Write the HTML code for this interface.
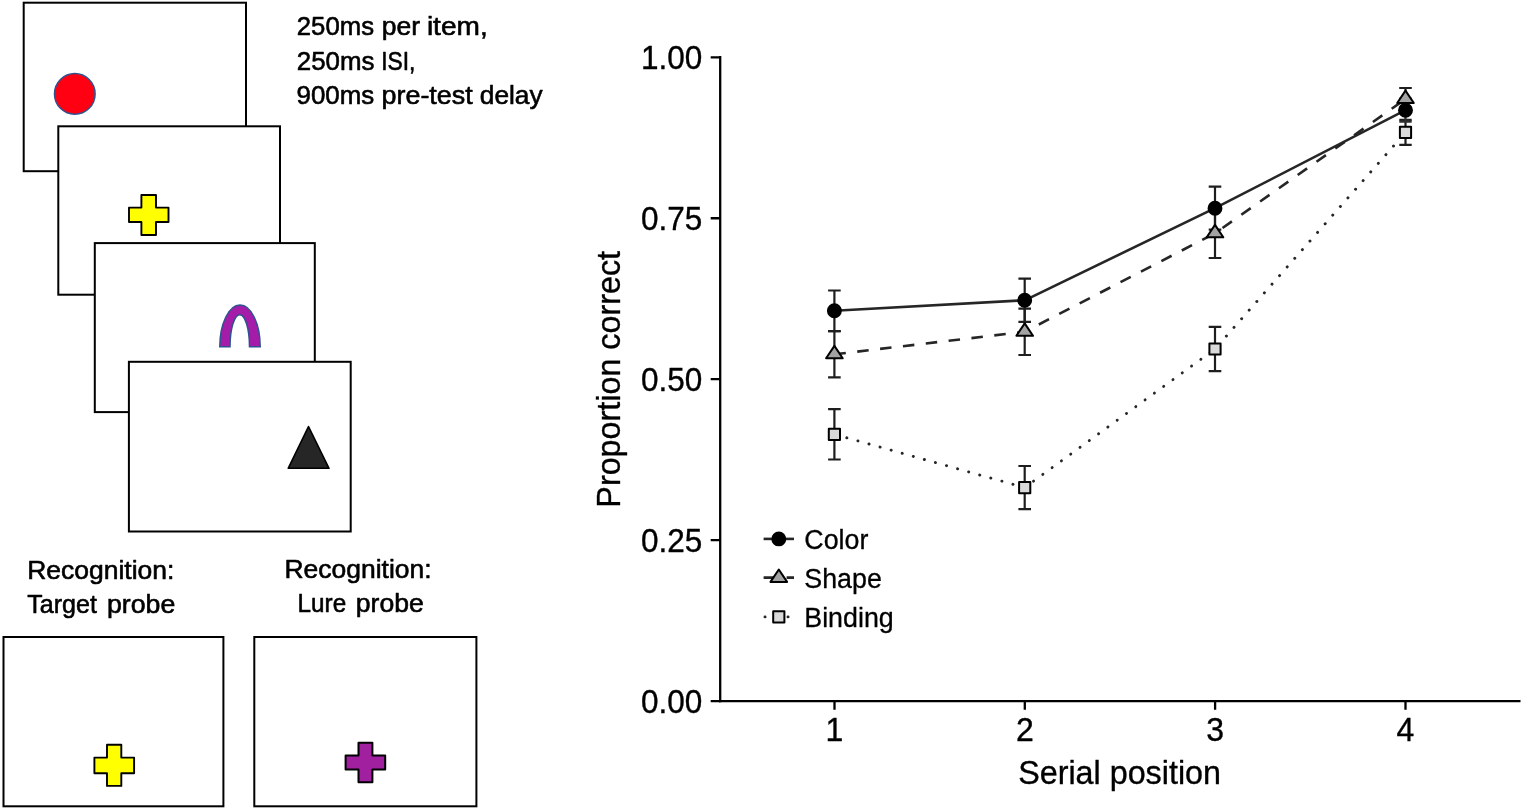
<!DOCTYPE html>
<html lang="en">
<head>
<meta charset="utf-8">
<title>Serial position recognition figure</title>
<style>
html,body{margin:0;padding:0;background:#fff;width:1524px;height:810px;overflow:hidden;}
svg{display:block;}
.cal{font-family:"Liberation Sans",sans-serif;font-size:26.3px;fill:#000;stroke:#000;stroke-width:0.6px;stroke-linejoin:round;}
.ax{font-family:"Liberation Sans",sans-serif;font-size:32px;fill:#000;stroke:#000;stroke-width:0.35px;stroke-linejoin:round;}
.tt{font-size:32.3px;}
.lg{font-family:"Liberation Sans",sans-serif;font-size:26.8px;fill:#000;stroke:#000;stroke-width:0.3px;stroke-linejoin:round;}
</style>
</head>
<body>
<svg width="1524" height="810" viewBox="0 0 1524 810">
<rect x="0" y="0" width="1524" height="810" fill="#fff"/>

<!-- ===== Stimulus sequence ===== -->
<g stroke="#000" stroke-width="2" fill="#fff">
  <rect x="23.7" y="2.7" width="222.3" height="168.5"/>
</g>
<circle cx="74.8" cy="93.9" r="20.3" fill="#ff0013" stroke="#2f528f" stroke-width="1.5"/>
<rect x="58.3" y="126.3" width="221.7" height="168.4" stroke="#000" stroke-width="2" fill="#fff"/>
<path d="M141.4,195 H156 V207.6 H168.5 V222 H156 V235 H141.4 V222 H129 V207.6 H141.4 Z" fill="#ffff00" stroke="#000" stroke-width="1.9" stroke-linejoin="round"/>
<rect x="94.8" y="243.1" width="220" height="169" stroke="#000" stroke-width="2" fill="#fff"/>
<path d="M219.8,346.7 A20.2,41.7 0 0 1 260.2,346.7 L249.5,346.7 A9.75,32 0 0 0 230,346.7 Z" fill="#a51ca8" stroke="#2f528f" stroke-width="1.5"/>
<rect x="128.9" y="361.8" width="221.8" height="169.7" stroke="#000" stroke-width="2" fill="#fff"/>
<path d="M308.5,426.5 L329,468.3 L288.2,468.3 Z" fill="#262626" stroke="#000" stroke-width="1.6" stroke-linejoin="round"/>

<text class="cal" y="35.4"><tspan x="296.8" textLength="77.2" lengthAdjust="spacingAndGlyphs">250ms</tspan> <tspan x="381.8" textLength="38.3" lengthAdjust="spacingAndGlyphs">per</tspan> <tspan x="426.9" textLength="60.8" lengthAdjust="spacingAndGlyphs">item,</tspan></text>
<text class="cal" y="69.8"><tspan x="296.8" textLength="77.6" lengthAdjust="spacingAndGlyphs">250ms</tspan> <tspan x="381.3" textLength="34.1" lengthAdjust="spacingAndGlyphs">ISI,</tspan></text>
<text class="cal" y="104.2"><tspan x="296.6" textLength="77.6" lengthAdjust="spacingAndGlyphs">900ms</tspan> <tspan x="381.5" textLength="91.2" lengthAdjust="spacingAndGlyphs">pre-test</tspan> <tspan x="479.8" textLength="62.8" lengthAdjust="spacingAndGlyphs">delay</tspan></text>

<!-- ===== Recognition probes ===== -->
<text class="cal" x="27.2" y="578.8" textLength="147.2" lengthAdjust="spacingAndGlyphs">Recognition:</text>
<text class="cal" y="613.2"><tspan x="27.2" textLength="69.7" lengthAdjust="spacingAndGlyphs">Target</tspan> <tspan x="107.0" textLength="68.3" lengthAdjust="spacingAndGlyphs">probe</tspan></text>
<text class="cal" x="284.5" y="578.0" textLength="147.1" lengthAdjust="spacingAndGlyphs">Recognition:</text>
<text class="cal" y="612.2"><tspan x="297.55" textLength="48.6" lengthAdjust="spacingAndGlyphs">Lure</tspan> <tspan x="355.8" textLength="68.0" lengthAdjust="spacingAndGlyphs">probe</tspan></text>

<rect x="3.5" y="637" width="219.9" height="169.3" stroke="#000" stroke-width="2" fill="#fff"/>
<rect x="254.3" y="637" width="222.1" height="169.3" stroke="#000" stroke-width="2" fill="#fff"/>
<path d="M107,744.8 H121.3 V757.6 H134.1 V773.2 H121.3 V785.9 H107 V773.2 H94.4 V757.6 H107 Z" fill="#ffff00" stroke="#000" stroke-width="1.9" stroke-linejoin="round"/>
<path d="M358.5,742.8 H372.4 V755.5 H385.2 V769.6 H372.4 V782.2 H358.5 V769.6 H345.6 V755.5 H358.5 Z" fill="#a020a0" stroke="#000" stroke-width="2" stroke-linejoin="round"/>

<!-- ===== Chart ===== -->
<g stroke="#000" stroke-width="2.3" stroke-linecap="butt" fill="none">
  <path d="M720.2,56.1 V702.2"/>
  <path d="M719,701.1 H1520.5"/>
  <path d="M710.7,57.30 H720.2 M710.7,218.25 H720.2 M710.7,379.20 H720.2 M710.7,540.15 H720.2 M710.7,701.10 H720.2"/>
  <path d="M834.5,701 V709.8 M1024.8,701 V709.8 M1215.1,701 V709.8 M1405.5,701 V709.8"/>
</g>
<g class="ax" text-anchor="end">
  <text transform="translate(702.4,68.90) scale(0.985,1.05)">1.00</text>
  <text transform="translate(702.4,229.85) scale(0.985,1.05)">0.75</text>
  <text transform="translate(702.4,390.80) scale(0.985,1.05)">0.50</text>
  <text transform="translate(702.4,551.75) scale(0.985,1.05)">0.25</text>
  <text transform="translate(702.4,712.70) scale(0.985,1.05)">0.00</text>
</g>
<g class="ax" text-anchor="middle">
  <text transform="translate(834.5,741.3) scale(1,1.03)">1</text>
  <text transform="translate(1024.8,741.3) scale(1,1.03)">2</text>
  <text transform="translate(1215.1,741.3) scale(1,1.03)">3</text>
  <text transform="translate(1405.5,741.3) scale(1,1.03)">4</text>
  <text x="1119.6" y="784.2" class="tt">Serial position</text>
  <text transform="translate(620.1,379.3) rotate(-90)" class="tt">Proportion correct</text>
</g>
<!-- error bars -->
<g stroke="#1e1e1e" stroke-width="2.2" fill="none">
  <path d="M834.4,409.1 V459.5 M828.1,409.1 H840.7 M828.1,459.5 H840.7"/>
  <path d="M1024.7,466.0 V509.2 M1018.4,466.0 H1031.0 M1018.4,509.2 H1031.0"/>
  <path d="M1215.0,326.8 V371.2 M1208.7,326.8 H1221.3 M1208.7,371.2 H1221.3"/>
  <path d="M1405.5,119.8 V144.9 M1399.3,119.8 H1411.7 M1399.3,144.9 H1411.7"/>
  <path d="M834.4,331.2 V377.4 M828.1,331.2 H840.7 M828.1,377.4 H840.7"/>
  <path d="M1024.7,308.6 V355.0 M1018.4,308.6 H1031.0 M1018.4,355.0 H1031.0"/>
  <path d="M1215.0,208.6 V258.0 M1208.7,208.6 H1221.3 M1208.7,258.0 H1221.3"/>
  <path d="M1405.5,88.0 V110.0 M1399.2,88.0 H1411.8 M1399.2,110.0 H1411.8"/>
  <path d="M834.4,290.5 V331.1 M828.1,290.5 H840.7 M828.1,331.1 H840.7"/>
  <path d="M1024.7,278.7 V321.9 M1018.4,278.7 H1031.0 M1018.4,321.9 H1031.0"/>
  <path d="M1215.0,186.7 V229.7 M1208.7,186.7 H1221.3 M1208.7,229.7 H1221.3"/>
  <path d="M1405.5,98.6 V121.7 M1399.3,98.6 H1411.7 M1399.3,121.7 H1411.7" stroke="#2e2e2e"/>
</g>
<!-- lines -->
<g fill="none" stroke="#262626" stroke-width="2.6">
  <path d="M834.4,434.3 L1024.7,487.6" stroke-dasharray="0.1 11.4" stroke-dashoffset="-1.39" stroke-linecap="round" stroke-width="2.9"/>
  <path d="M1024.7,487.6 L1215.0,349.0" stroke-dasharray="0.1 11.4" stroke-dashoffset="0.61" stroke-linecap="round" stroke-width="2.9"/>
  <path d="M1215.0,349.0 L1405.5,132.4" stroke-dasharray="0.1 11.4" stroke-dashoffset="5.75" stroke-linecap="round" stroke-width="2.9"/>
  <path d="M834.4,354.3 L1024.7,331.8" stroke-dasharray="11.5 11.5" stroke-dashoffset="0.00"/>
  <path d="M1024.7,331.8 L1215.0,233.3" stroke-dasharray="11.5 11.5" stroke-dashoffset="7.10"/>
  <path d="M1215.0,233.3 L1405.5,99.0" stroke-dasharray="11.5 11.5" stroke-dashoffset="13.80"/>
  <polyline points="834.4,310.8 1024.7,300.3 1215.0,208.2 1405.5,110.2" stroke-linejoin="round"/>
</g>
<!-- markers -->
<g fill="#d9d9d9" stroke="#000" stroke-width="2" stroke-linejoin="round">
  <rect x="828.80" y="428.70" width="11.20" height="11.20"/>
  <rect x="1019.10" y="482.00" width="11.20" height="11.20"/>
  <rect x="1209.40" y="343.40" width="11.20" height="11.20"/>
  <rect x="1399.90" y="126.80" width="11.20" height="11.20"/>
</g>
<g fill="#a3a3a3" stroke="#000" stroke-width="2" stroke-linejoin="round">
  <path d="M834.4,345.90 L842.70,358.30 L826.10,358.30 Z"/>
  <path d="M1024.7,323.40 L1033.00,335.80 L1016.40,335.80 Z"/>
  <path d="M1215.0,224.90 L1223.30,237.30 L1206.70,237.30 Z"/>
  <path d="M1405.5,90.60 L1413.80,103.00 L1397.20,103.00 Z"/>
</g>
<g fill="#000" stroke="#000" stroke-width="1.5">
  <circle cx="834.4" cy="310.8" r="6.7"/>
  <circle cx="1024.7" cy="300.3" r="6.7"/>
  <circle cx="1215.0" cy="208.2" r="6.7"/>
  <circle cx="1405.5" cy="110.2" r="6.7"/>
</g>
<!-- legend -->
<g fill="none" stroke="#262626" stroke-width="2.6">
  <path d="M763.6,538.9 H794"/>
  <path d="M763.6,577.6 H794" stroke-dasharray="11.5 11.5"/>
  <path d="M763.6,616.9 H794" stroke-dasharray="0.1 11.4" stroke-dashoffset="-1.39" stroke-linecap="round" stroke-width="2.9"/>
</g>
<circle cx="778.8" cy="538.9" r="6.7" fill="#000" stroke="#000" stroke-width="1.5"/>
<path d="M778.8,569.50 L787.10,581.90 L770.50,581.90 Z" fill="#a3a3a3" stroke="#000" stroke-width="2" stroke-linejoin="round"/>
<rect x="773.2" y="611.3" width="11.2" height="11.2" fill="#d9d9d9" stroke="#000" stroke-width="2" stroke-linejoin="round"/>
<g class="lg">
  <text x="804.3" y="549.4">Color</text>
  <text x="804.3" y="588.0">Shape</text>
  <text x="804.3" y="626.8">Binding</text>
</g>
</svg>
</body>
</html>
